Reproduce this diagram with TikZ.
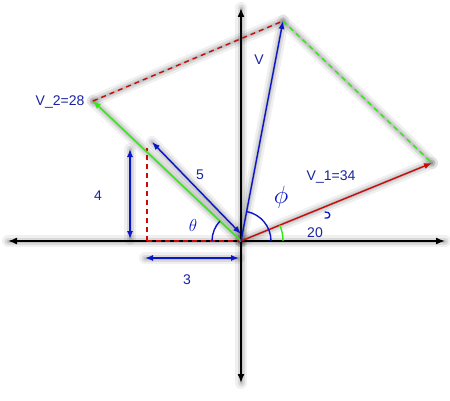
\documentclass[tikz,border=0pt]{standalone}
\usepackage{fontspec}
\setmainfont{Liberation Sans}
\usetikzlibrary{arrows.meta}
\definecolor{vblue}{RGB}{10,20,200}
\definecolor{tblue}{RGB}{25,35,160}
\definecolor{vred}{RGB}{200,10,10}
\definecolor{vgreen}{RGB}{50,235,20}
\tikzset{
  axis/.style={black, line width=1.5pt, {Latex[length=9pt,width=7pt]}-{Latex[length=9pt,width=7pt]}},
  vec/.style={line width=1.4pt, -{Latex[length=8pt,width=6pt]}},
  dvec/.style={line width=1.4pt, {Latex[length=8pt,width=6pt]}-{Latex[length=8pt,width=6pt]}},
  dashln/.style={line width=1.4pt, dash pattern=on 5pt off 4pt},
  lbl/.style={text=tblue, font=\fontsize{14}{16}\selectfont, inner sep=0pt},
  shad/.style={draw=black, opacity=0.06, line width=12pt, line cap=round, shift={(4pt,-6pt)}},
  shad2/.style={draw=black, opacity=0.09, line width=7pt, line cap=round, shift={(4pt,-6pt)}},
  shad3/.style={draw=black, opacity=0.10, line width=3pt, line cap=round, shift={(4pt,-6pt)}},
  arcb/.style={line width=1.4pt}
}
\begin{document}
\begin{tikzpicture}[x=1pt,y=1pt]
\useasboundingbox (0,0) rectangle (450,400);
\fill[white] (0,0) rectangle (450,400);
% key points
\coordinate (O) at (241,159);
\coordinate (xl) at (8,159);
\coordinate (xr) at (445,159);
\coordinate (yb) at (241,392);
\coordinate (yt) at (241,17);
\coordinate (A) at (432,237);
\coordinate (B) at (283,379);
\coordinate (C) at (93,299);
\coordinate (P) at (147,159);
\coordinate (Q) at (147,252);
\coordinate (f1) at (152,258);
\coordinate (f2) at (241,166);
\coordinate (h1) at (130,251);
\coordinate (h2) at (130,161);
\coordinate (w1) at (145,142);
\coordinate (w2) at (239,142);
% shadows
\foreach \s in {shad,shad2,shad3}{
  \draw[\s] (xl) -- (xr);
  \draw[\s] (yb) -- (yt);
  \draw[\s] (O) -- (A);
  \draw[\s] (O) -- (B);
  \draw[\s] (O) -- (C);
  \draw[\s] (C) -- (B) -- (A);
  \draw[\s] (f1) -- (f2);
  \draw[\s] (h1) -- (h2);
  \draw[\s] (w1) -- (w2);
}
% axes
\draw[axis] (xl) -- (xr);
\draw[axis] (yt) -- (yb);
% dashed construction
\draw[dashln, vred] (P) -- (Q);
\draw[dashln, vred] (P) -- (O);
\draw[dashln, vred] (C) -- (B);
\draw[dashln, vgreen] (B) -- (A);
% vectors
\draw[vec, vred] (O) -- (A);
\draw[vec, vgreen] (O) -- (C);
\draw[vec, vblue] (O) -- (B);
% dimension arrows
\draw[dvec, vblue] (f1) -- (f2);
\draw[dvec, vblue] (h1) -- (h2);
\draw[dvec, vblue] (w1) -- (w2);
% angle arcs
\draw[arcb, vblue] (212,159) arc[start angle=180, end angle=136.6, radius=29];
\draw[arcb, vblue] (271,159) arc[start angle=0, end angle=79.2, radius=30];
\draw[arcb, vgreen] (283,159) arc[start angle=0, end angle=22.2, radius=42];
% labels
\node[lbl] (lv2) at (60,298) {V\_2=28};
\node[lbl] (lv) at (259,340) {V};
\node[lbl] (lv1) at (331,223) {V\_1=34};
\node[lbl] (l5) at (200,225) {5};
\node[lbl] (l4) at (98,204) {4};
\node[lbl] (l3) at (187,120) {3};
\node[lbl] (l20) at (315,167) {20};
\node[lbl, text=vblue, font=\fontsize{18}{20}\selectfont] (lth) at (193,175) {$\theta$};
\node[lbl, text=vblue, font=\fontsize{24}{26}\selectfont] (lph) at (281,203) {$\phi$};
\draw[vblue, line width=1.3pt, line cap=round] (325,188) .. controls (331,189) and (332,181) .. (325,182);
\end{tikzpicture}
\end{document}
